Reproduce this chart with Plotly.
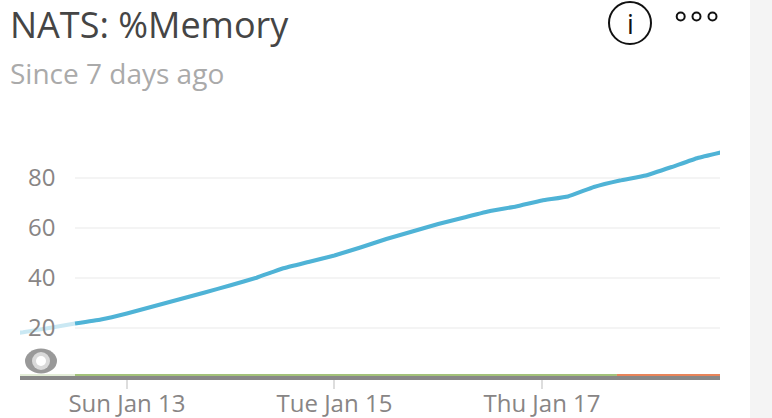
import pandas as pd
import plotly.graph_objects as go

W, H = 772, 418
ML, MR, MT, MB = 20, 52, 140, 42

title_text = "NATS: %Memory"
subtitle_text = "Since 7 days ago"
dates = pd.date_range("2019-01-11 18:00", periods=29, freq="6h")
memory = [17.0, 18.3, 20.0, 21.8, 23.4, 25.8, 28.6, 31.4, 34.2, 37.1, 40.1, 43.8, 46.4, 49.0,
          52.2, 55.6, 58.6, 61.6, 64.2, 66.8, 68.6, 71.0, 72.6, 76.4, 79.0, 81.0, 84.4, 88.0, 90.5]
status_value = 1.2
fade_end = pd.Timestamp("2019-01-12 12:00")
status_change = pd.Timestamp("2019-01-17 17:20")
x_ticks = ["2019-01-13", "2019-01-15", "2019-01-17"]
x_labels = ["Sun Jan 13", "Tue Jan 15", "Thu Jan 17"]
y_ticks = [20, 40, 60, 80]
x_range = ["2019-01-11 23:17", "2019-01-18 17:10"]
y_range = [0.8, 95.2]

FONT = "Open Sans"
BLUE = "#4fb3d6"
GREEN = "#a3c27a"
ORANGE = "#e8845a"
px = lambda v: (v - ML) / (W - ML - MR)
py = lambda v: 1 - (v - MT) / (H - MT - MB)

def circle(cx, cy, rx, ry, fill="rgba(0,0,0,0)", line="#111", lw=2):
    return dict(type="circle", xref="paper", yref="paper", layer="above",
                x0=px(cx - rx), x1=px(cx + rx), y0=py(cy + ry), y1=py(cy - ry),
                fillcolor=fill, line=dict(color=line, width=lw))

fig = go.Figure()
end_date = pd.Timestamp(x_range[1])
df = pd.DataFrame({"d": dates, "v": memory})
faded = df[df.d <= fade_end]
solid = df[df.d >= fade_end]
fig.add_trace(go.Scatter(x=faded.d, y=faded.v, mode="lines",
                         line=dict(color="rgba(79,179,214,0.3)", width=4, shape="spline", smoothing=0.3)))
fig.add_trace(go.Scatter(x=solid.d, y=solid.v, mode="lines",
                         line=dict(color=BLUE, width=4, shape="spline", smoothing=0.3)))
fig.add_trace(go.Scatter(x=[pd.Timestamp(x_range[0]), fade_end], y=[status_value] * 2, mode="lines",
                         line=dict(color="rgba(163,194,122,0.3)", width=2)))
fig.add_trace(go.Scatter(x=[fade_end, status_change], y=[status_value] * 2, mode="lines",
                         line=dict(color=GREEN, width=2)))
fig.add_trace(go.Scatter(x=[status_change, end_date], y=[status_value] * 2, mode="lines",
                         line=dict(color=ORANGE, width=2)))

shapes = [dict(type="rect", xref="paper", yref="paper", layer="below", x0=px(750), x1=px(772), y0=py(418), y1=py(0),
               fillcolor="#f4f4f4", line=dict(width=0))]
for t in y_ticks:
    shapes.append(dict(type="line", xref="x", yref="y", layer="below", x0=fade_end, x1=end_date,
                       y0=t, y1=t, line=dict(color="#f4f4f4", width=2)))
shapes += [
    circle(630, 23, 21, 21),
    circle(680.7, 16.5, 4, 4), circle(696.5, 16.5, 4, 4), circle(712.5, 16.5, 4, 4),
    circle(41, 361, 16, 12.5, fill="#999999", line="#999999", lw=0),
    circle(41, 361, 9, 9, fill="#d9d9d9", line="#d9d9d9", lw=0),
    circle(41, 361, 5, 5, fill="#ffffff", line="#ffffff", lw=0),
]

annotations = [
    dict(text=title_text, xref="paper", yref="paper", x=px(10), y=py(24), xanchor="left", yanchor="middle",
         showarrow=False, xshift=-2, font=dict(family=FONT, size=36, color="#454545")),
    dict(text=subtitle_text, xref="paper", yref="paper", x=px(10), y=py(73), xanchor="left", yanchor="middle",
         showarrow=False, xshift=-2, font=dict(family=FONT, size=28, color="#aaaaaa")),
    dict(text="i", xref="paper", yref="paper", x=px(630), y=py(23), xanchor="center", yanchor="middle",
         showarrow=False, font=dict(family=FONT, size=27, color="#111111")),
]

fig.update_layout(
    width=W, height=H, autosize=False, showlegend=False,
    margin=dict(l=ML, r=MR, t=MT, b=MB, pad=0),
    paper_bgcolor="white", plot_bgcolor="white",
    shapes=shapes, annotations=annotations,
    xaxis=dict(range=x_range, type="date", tickvals=x_ticks, ticktext=x_labels, showgrid=False, zeroline=False,
               automargin=False, showline=True, linecolor="#888888", linewidth=4, ticks="outside", ticklen=9,
               tickwidth=2, tickcolor="#dddddd", ticklabelstandoff=-6,
               tickfont=dict(family=FONT, size=24, color="#888585")),
    yaxis=dict(range=y_range, tickvals=y_ticks, showgrid=False, zeroline=False, showline=False, ticks="",
               automargin=False, ticklabelposition="inside", ticklabelstandoff=5,
               tickfont=dict(family=FONT, size=24, color="#888585")),
)
fig.write_html("out.html", config={"displayModeBar": False}, post_script="document.body.style.margin='0';")
